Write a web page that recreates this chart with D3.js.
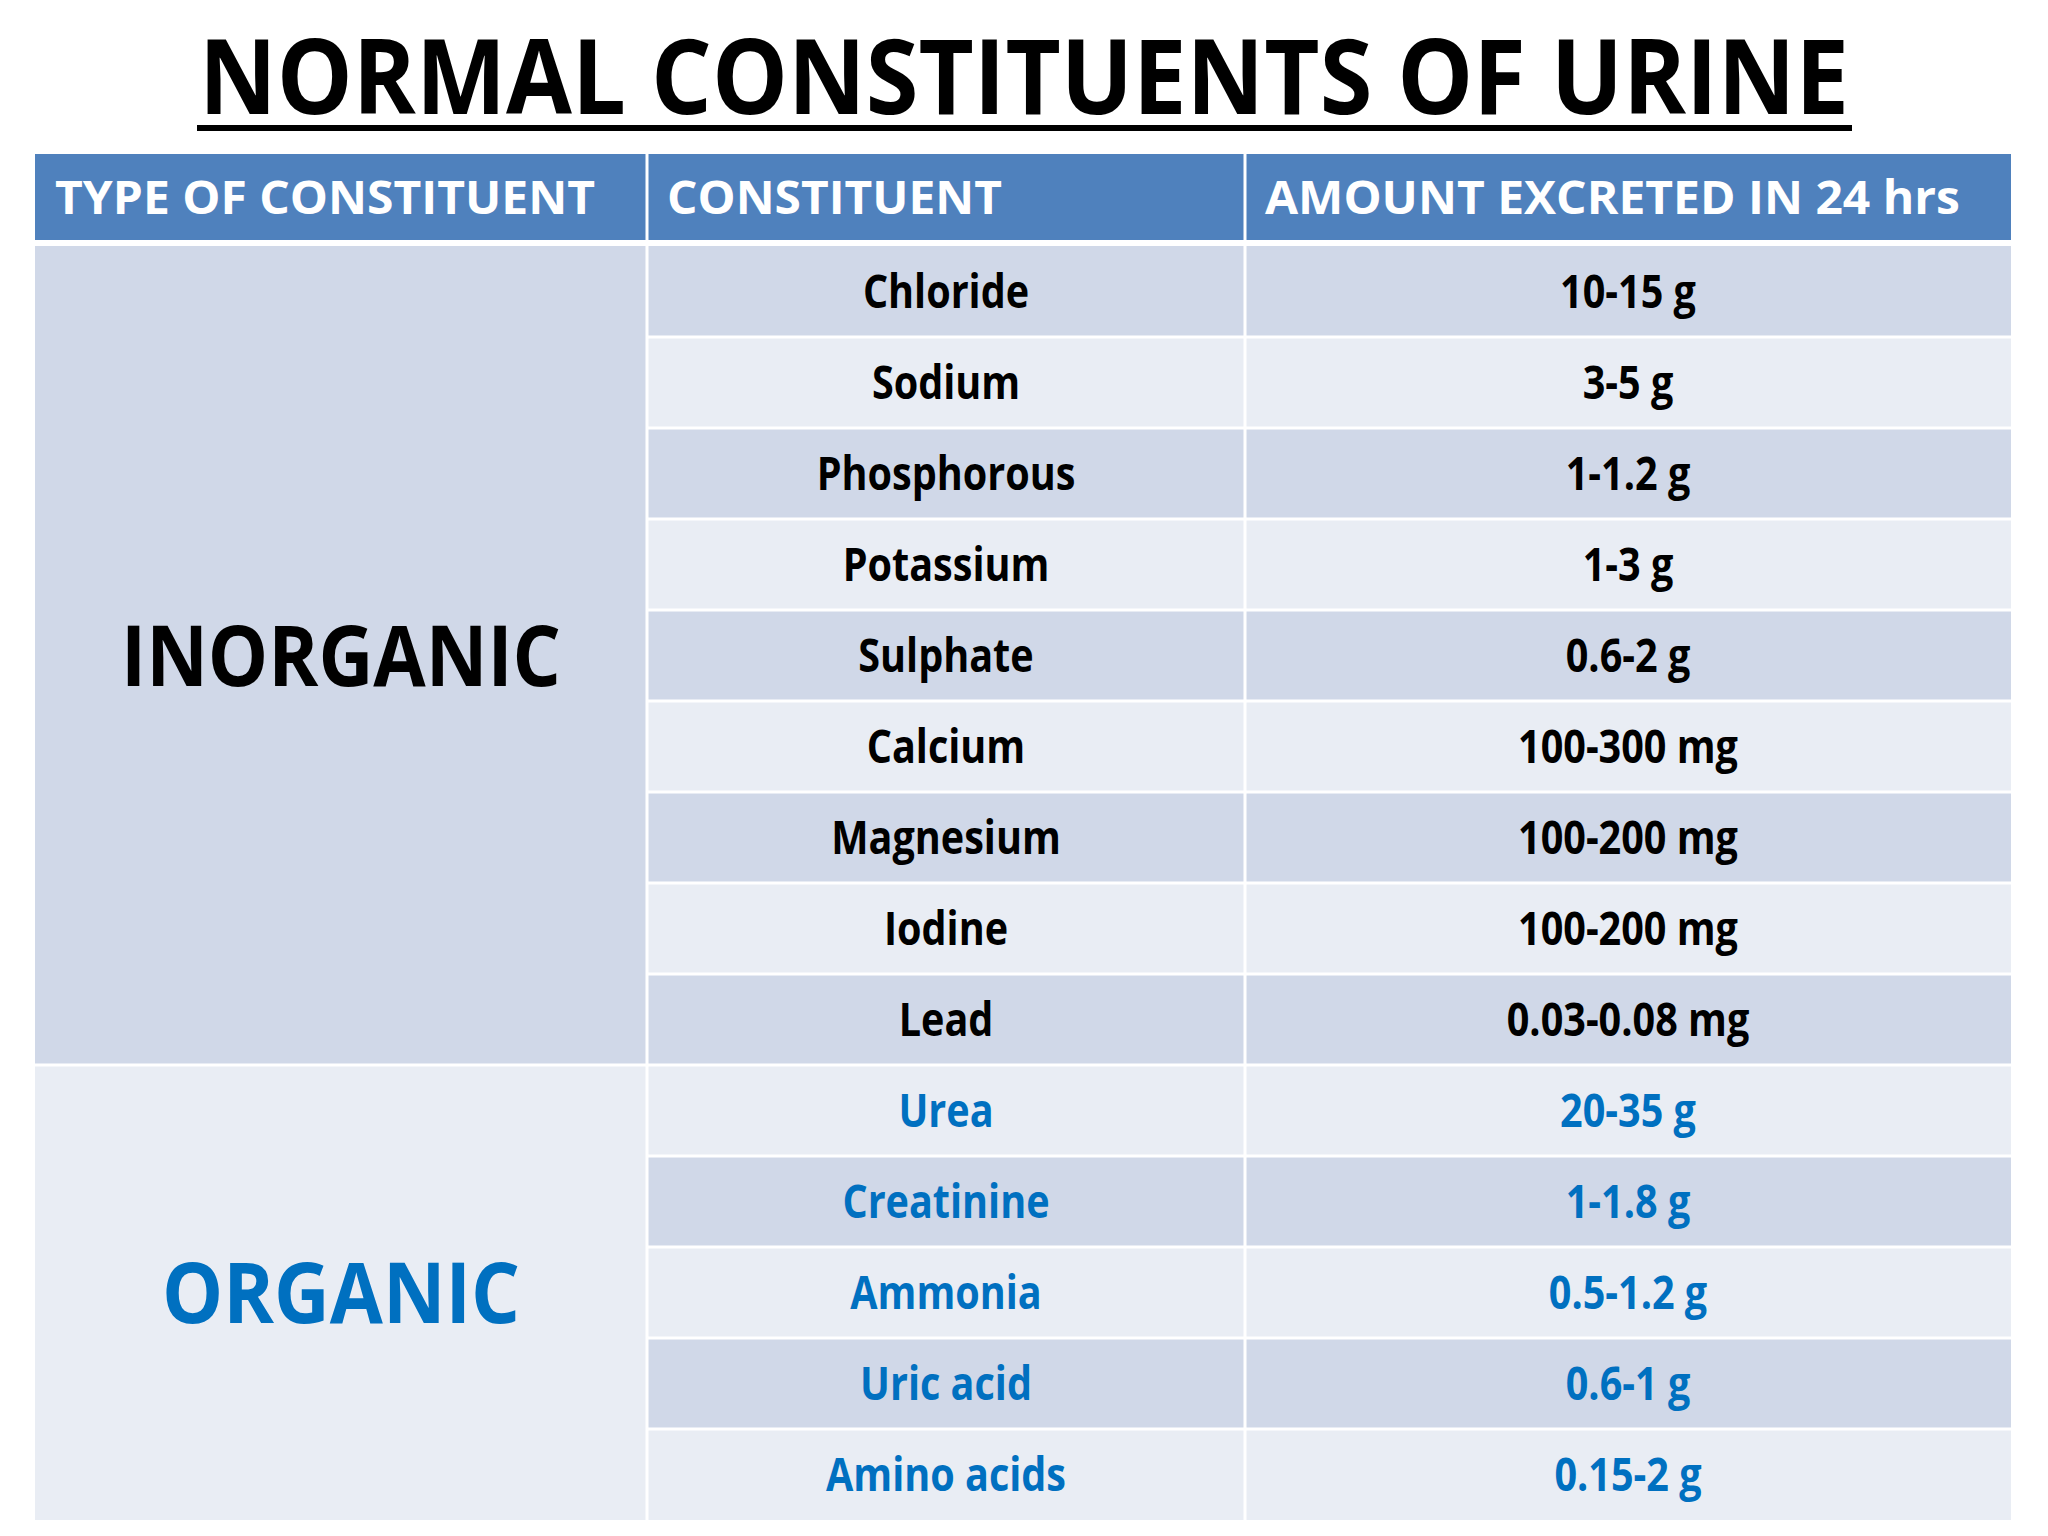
<!DOCTYPE html>
<html><head><meta charset="utf-8">
<script src="https://cdn.jsdelivr.net/npm/d3@7"></script>
<style>body{margin:0;background:#fff}</style></head>
<body><svg id="c" width="2048" height="1536"></svg>
<script>
const title = "NORMAL CONSTITUENTS OF URINE";
const headers = ["TYPE OF CONSTITUENT", "CONSTITUENT", "AMOUNT EXCRETED IN 24 hrs"];
const constituents = ["Chloride","Sodium","Phosphorous","Potassium","Sulphate","Calcium","Magnesium","Iodine","Lead","Urea","Creatinine","Ammonia","Uric acid","Amino acids"];
const amounts = ["10-15 g","3-5 g","1-1.2 g","1-3 g","0.6-2 g","100-300 mg","100-200 mg","100-200 mg","0.03-0.08 mg","20-35 g","1-1.8 g","0.5-1.2 g","0.6-1 g","0.15-2 g"];
const groups = ["INORGANIC","INORGANIC","INORGANIC","INORGANIC","INORGANIC","INORGANIC","INORGANIC","INORGANIC","INORGANIC","ORGANIC","ORGANIC","ORGANIC","ORGANIC","ORGANIC"];
const groupNames = ["INORGANIC","ORGANIC"];

const svg = d3.select("#c");
const F = "'Open Sans','Noto Sans',sans-serif";
const colX = [35, 647, 1245, 2011];
const y = d3.scaleBand().domain(d3.range(constituents.length)).range([246, 1520]).paddingInner(0);
const dark = "#D0D8E8", light = "#E9EDF4", blue = "#0070C0";

// title
const t = svg.append("text").attr("x",1024).attr("y",114).attr("text-anchor","middle")
  .attr("font-family",F).attr("font-weight",700).attr("font-size",104)
  .attr("textLength",1650).attr("lengthAdjust","spacingAndGlyphs").attr("fill","#000").text(title);
svg.append("rect").attr("x",197).attr("y",125).attr("width",1655).attr("height",6).attr("fill","#000");

// header
svg.append("rect").attr("x",colX[0]).attr("y",154).attr("width",colX[3]-colX[0]).attr("height",86).attr("fill","#4F81BD");
const hw = [540, 335, 695];
headers.forEach((h,i)=>{
  svg.append("text").attr("x",colX[i]+20).attr("y",214).attr("font-family",F).attr("font-weight",700)
    .attr("font-size",46).attr("fill","#fff").attr("textLength",hw[i]).attr("lengthAdjust","spacingAndGlyphs").text(h);
});

// group cells
groupNames.forEach((g,gi)=>{
  const idx = d3.range(groups.length).filter(i=>groups[i]===g);
  const y0 = y(idx[0]), y1 = y(idx[idx.length-1]) + y.bandwidth();
  svg.append("rect").attr("x",colX[0]).attr("y",y0).attr("width",colX[1]-colX[0]).attr("height",y1-y0)
    .attr("fill", gi===0?dark:light);
  svg.append("text").attr("x",(colX[0]+colX[1])/2).attr("y",(y0+y1)/2+30).attr("text-anchor","middle")
    .attr("font-family",F).attr("font-weight",700).attr("font-size",84)
    .attr("textLength", gi===0?440:358).attr("lengthAdjust","spacingAndGlyphs")
    .attr("fill", gi===0?"#000":blue).text(g);
});

// rows
constituents.forEach((c,i)=>{
  const fill = i%2===0?dark:light;
  [1,2].forEach(k=>svg.append("rect").attr("x",colX[k]).attr("y",y(i)).attr("width",colX[k+1]-colX[k]).attr("height",y.bandwidth()).attr("fill",fill));
  const col = groups[i]==="ORGANIC"?blue:"#000";
  [[c,1],[amounts[i],2]].forEach(([txt,k])=>{
    const el = svg.append("text").attr("x",(colX[k]+colX[k+1])/2).attr("y",y(i)+y.bandwidth()/2+16)
      .attr("text-anchor","middle").attr("font-family",F).attr("font-weight",700).attr("font-size",46)
      .attr("fill",col).text(txt);
    const w = el.node().getComputedTextLength();
    el.attr("textLength", w*0.86).attr("lengthAdjust","spacingAndGlyphs");
  });
});

// white grid lines
const lines = svg.append("g").attr("stroke","#fff").attr("stroke-width",3);
[colX[1],colX[2]].forEach(x=>lines.append("line").attr("x1",x).attr("x2",x).attr("y1",154).attr("y2",1520));
lines.append("line").attr("x1",colX[0]).attr("x2",colX[3]).attr("y1",243).attr("y2",243).attr("stroke-width",6);
d3.range(1,constituents.length).forEach(i=>{
  const x1 = groups[i]!==groups[i-1]?colX[0]:colX[1];
  lines.append("line").attr("x1",x1).attr("x2",colX[3]).attr("y1",y(i)).attr("y2",y(i));
});
</script></body></html>
